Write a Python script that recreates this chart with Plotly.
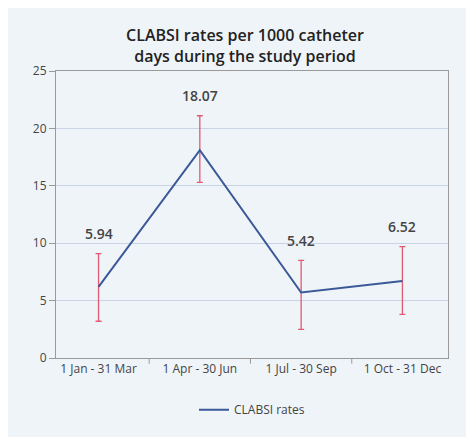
import plotly.graph_objects as go

categories = ["1 Jan - 31 Mar", "1 Apr - 30 Jun", "1 Jul - 30 Sep", "1 Oct - 31 Dec"]
rates = [6.2, 18.1, 5.7, 6.7]
labels = ["5.94", "18.07", "5.42", "6.52"]
upper = [9.1, 21.1, 8.5, 9.7]
lower = [3.2, 15.3, 2.5, 3.8]

bg = "#eff4f9"
fig = go.Figure()
fig.add_trace(go.Scatter(
    x=list(range(4)), y=rates, mode="lines", name="CLABSI rates",
    line=dict(color="#3b5998", width=2),
    error_y=dict(type="data", symmetric=False,
                 array=[u - r for u, r in zip(upper, rates)],
                 arrayminus=[r - l for r, l in zip(rates, lower)],
                 color="#e05a72", thickness=1.3, width=3),
))
for i, (t, u) in enumerate(zip(labels, upper)):
    fig.add_annotation(x=i, y=u, text=t, showarrow=False, yshift=20,
                       font=dict(size=14, color="#444", weight=600))
fig.update_layout(
    width=474, height=437, paper_bgcolor=bg, plot_bgcolor=bg,
    margin=dict(l=48, r=34, t=63, b=87),
    font=dict(family="Open Sans", color="#444"),
    title=dict(text="CLABSI rates per 1000 catheter<br>days during the study period",
               x=0.5, xanchor="center", y=0.925, yanchor="middle",
               font=dict(size=16, color="#222", weight=600)),
    showlegend=True,
    legend=dict(orientation="h", x=0.5, xanchor="center", y=-0.18, yanchor="middle",
                font=dict(size=12)),
    xaxis=dict(range=[-0.42, 3.45], tickvals=list(range(4)), ticktext=categories,
               showgrid=False, showline=True, linecolor="#999", mirror=True,
               ticks="", tickfont=dict(size=12), zeroline=False),
    yaxis=dict(range=[0, 25], dtick=5, gridcolor="#c9d3e6", showline=True,
               linecolor="#999", mirror=True, ticks="outside", ticklen=6,
               tickcolor="#999", tickfont=dict(size=12), zeroline=False),
)
for b in [0.5, 1.5, 2.5]:
    fig.add_shape(type="line", xref="x", yref="paper", x0=b, x1=b, y0=0, y1=-0.02,
                  line=dict(color="#999", width=1))
fig.write_html("out.html")
